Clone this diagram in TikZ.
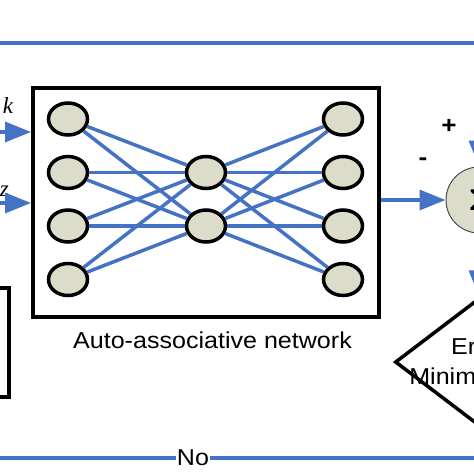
\documentclass[tikz,border=0pt]{standalone}
\usepackage{fontspec}
\setmainfont{Liberation Sans}[FakeStretch=1.09]
\newfontfamily\serifit{Liberation Serif}
\usepackage{tikz}
\usetikzlibrary{arrows.meta, shapes.geometric}
\definecolor{linkblue}{RGB}{68,114,196}
\definecolor{cellfill}{RGB}{219,220,202}
\tikzstyle{neuron}=[ellipse, draw, fill=cellfill, line width=3.5pt, minimum width=39pt, minimum height=32pt, inner sep=0pt]
\tikzstyle{flow}=[draw=linkblue, line width=3.5pt]
\tikzstyle{arrow}=[flow, -{Triangle[length=26pt, width=20pt]}]
\tikzstyle{label}=[font=\fontsize{23}{30}\selectfont, inner sep=0pt]

\begin{document}
\begin{tikzpicture}[x=1pt, y=-1pt]
		   \clip (0, 0) rectangle (474, 474);
		   \begin{scope}
			   % auto-associative network
			   \node (net) at (206, 202.5)[draw, line width=4pt, minimum width=346pt, minimum height=229pt] {};
			   \node (in1) at (68, 119)[neuron] {};
			   \node (in2) at (68, 172.5)[neuron] {};
			   \node (in3) at (68, 226)[neuron] {};
			   \node (in4) at (68, 279.5)[neuron] {};
			   \node (hid1) at (206, 172.5)[neuron] {};
			   \node (hid2) at (206, 226)[neuron] {};
			   \node (out1) at (343, 119)[neuron] {};
			   \node (out2) at (343, 172.5)[neuron] {};
			   \node (out3) at (343, 226)[neuron] {};
			   \node (out4) at (343, 279.5)[neuron] {};
			   \node (netname) at (212.5, 348)[label, anchor=base] {Auto-associative network};
		   \end{scope}
		   \begin{scope}[every edge/.style={draw=linkblue, line width=3.5pt}]
			   \path [-] (in1) edge (hid1);
			   \path [-] (in1) edge (hid2);
			   \path [-] (in2) edge (hid1);
			   \path [-] (in2) edge (hid2);
			   \path [-] (in3) edge (hid1);
			   \path [-] (in3) edge (hid2);
			   \path [-] (in4) edge (hid1);
			   \path [-] (in4) edge (hid2);
			   \path [-] (hid1) edge (out1);
			   \path [-] (hid1) edge (out2);
			   \path [-] (hid1) edge (out3);
			   \path [-] (hid1) edge (out4);
			   \path [-] (hid2) edge (out1);
			   \path [-] (hid2) edge (out2);
			   \path [-] (hid2) edge (out3);
			   \path [-] (hid2) edge (out4);
		   \end{scope}
		   \begin{scope}
			   % summation and error check
			   \node (sum) at (479, 200)[circle, draw=black!70, fill=cellfill, line width=1pt, minimum size=66pt, inner sep=0pt, font=\fontsize{30}{30}\selectfont] {Σ};
			   \node (plus) at (449, 126)[font=\fontsize{24}{24}\selectfont\bfseries] {+};
			   \node (minus) at (423, 162)[font=\fontsize{24}{24}\selectfont\bfseries] {-};
			   \node (err) at (479, 362)[diamond, draw, line width=3.5pt, minimum width=168pt, minimum height=128pt, inner sep=0pt] {};
			   \node (errtext) at (479, 362)[label, align=center] {Error\\Minimization};
			   \node (lbox) at (-45, 342.5)[draw, line width=4pt, minimum width=108pt, minimum height=109pt] {};
			   \node (no) at (193, 458)[label, inner xsep=1pt] {No};
			   \node (klab) at (8, 113)[anchor=base, inner sep=0pt, font=\fontsize{23}{23}\serifit\itshape] {k};
			   \node (zlab) at (9, 196)[anchor=base east, inner sep=0pt, font=\fontsize{23}{23}\serifit\itshape] {z};
			   \coordinate (src1) at (-10, 132);
			   \coordinate (src2) at (-10, 203);
			   \coordinate (top0) at (-10, 43);
			   \coordinate (top1) at (479, 43);
			   \coordinate (no0) at (-10, 458);
			   \coordinate (no1) at (490, 458);
		   \end{scope}
		   \begin{scope}
			   \draw [arrow] (src1) -- (net.west |- src1);
			   \draw [arrow] (src2) -- (net.west |- src2);
			   \draw [arrow] (net.east |- sum.west) -- (sum.west);
			   \draw [arrow] (top0) -- (top1) -- (sum.north);
			   \draw [arrow] (sum.south) -- (err.north);
			   \draw [flow] (no0) -- (no) (no) -- (no1);
		   \end{scope}
	   \end{tikzpicture}
\end{document}
